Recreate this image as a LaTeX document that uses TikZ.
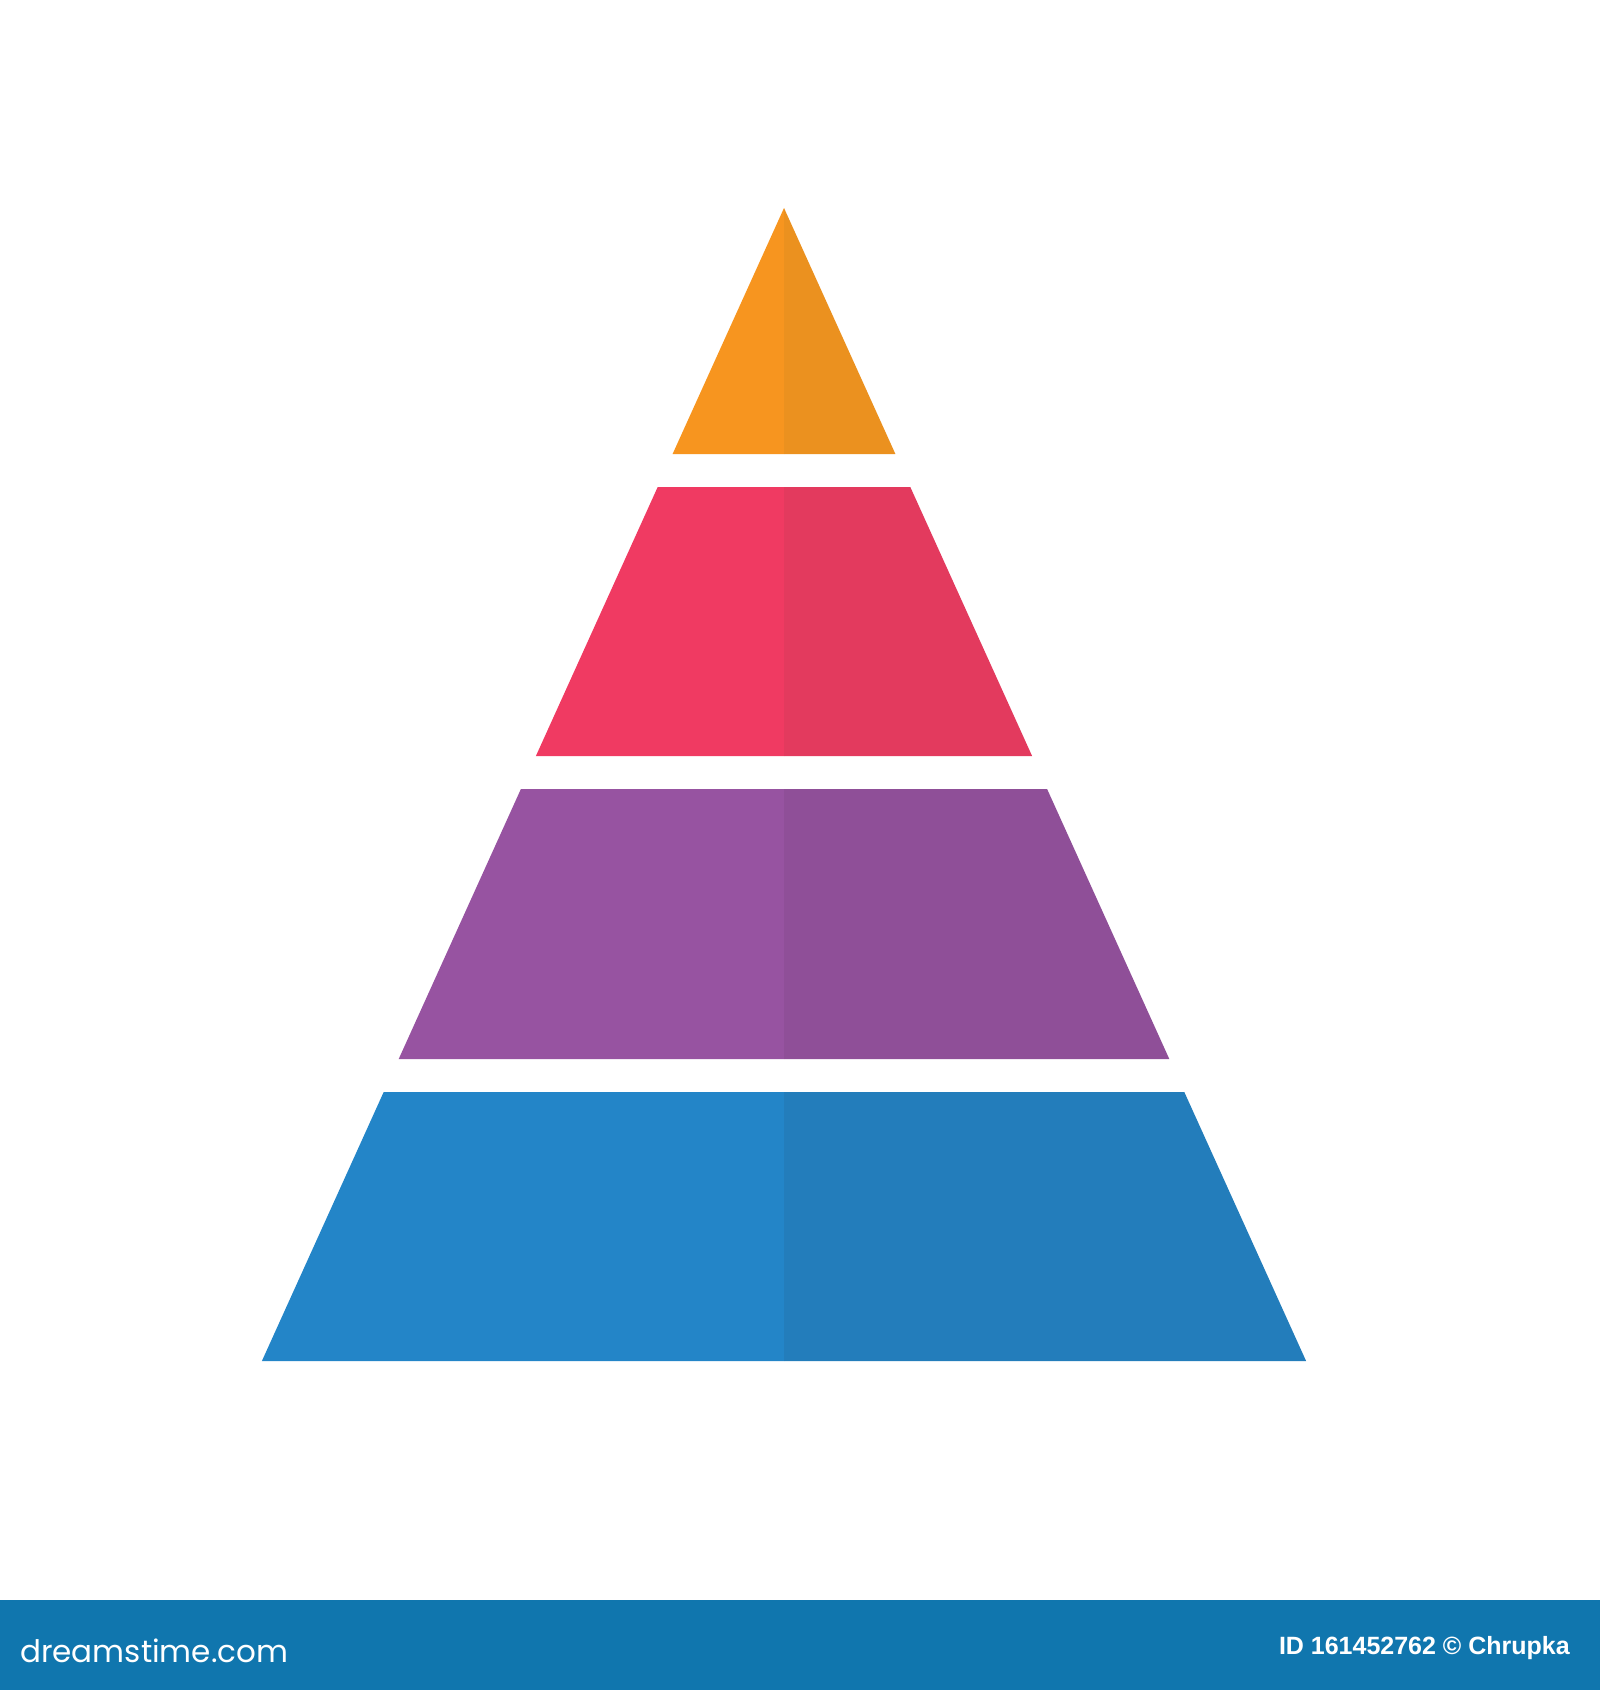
\documentclass[tikz,border=0pt]{standalone}
\usepackage{fontspec}
\setmainfont{Liberation Sans}
\newfontfamily\logofont{Poppins}
\usetikzlibrary{calc}
\definecolor{orangeL}{HTML}{F7951F}
\definecolor{orangeR}{HTML}{EB911F}
\definecolor{redL}{HTML}{F03A62}
\definecolor{redR}{HTML}{E33A5E}
\definecolor{purpleL}{HTML}{9753A1}
\definecolor{purpleR}{HTML}{8F4F98}
\definecolor{blueL}{HTML}{2385C8}
\definecolor{blueR}{HTML}{237DBB}
\definecolor{barblue}{HTML}{1076AE}
\tikzset{
	layer/.style={fill=#1, draw=none},
	bartext/.style={text=white, inner sep=0pt}
}

\begin{document}
\begin{tikzpicture}[x=1pt, y=-1pt]
		% Page with the margins of the picture
		\useasboundingbox[fill=white] (0, 0) rectangle (1600, 1690);

		% Top layer (triangle)
		\fill[layer=orangeL] (784, 208) -- (672.6, 454) -- (784, 454) -- cycle;
		\fill[layer=orangeR] (784, 208) -- (895.4, 454) -- (784, 454) -- cycle;

		% Second layer
		\fill[layer=redL] (657.7, 487) -- (784, 487) -- (784, 756) -- (535.9, 756) -- cycle;
		\fill[layer=redR] (784, 487) -- (910.3, 487) -- (1032.1, 756) -- (784, 756) -- cycle;

		% Third layer
		\fill[layer=purpleL] (520.9, 789) -- (784, 789) -- (784, 1059) -- (398.7, 1059) -- cycle;
		\fill[layer=purpleR] (784, 789) -- (1047.1, 789) -- (1169.3, 1059) -- (784, 1059) -- cycle;

		% Bottom layer
		\fill[layer=blueL] (383.7, 1092) -- (784, 1092) -- (784, 1361) -- (261.9, 1361) -- cycle;
		\fill[layer=blueR] (784, 1092) -- (1184.3, 1092) -- (1306.1, 1361) -- (784, 1361) -- cycle;

		% Footer bar with its texts
		\fill[barblue] (0, 1600) rectangle (1600, 1690);
		\node[bartext, anchor=base west] (site) at (20, 1662)
			{\logofont\fontsize{31}{31}\selectfont dreamstime.com};
		\node[bartext, anchor=base east] (credit) at (1570, 1654)
			{\bfseries\fontsize{25}{25}\selectfont ID 161452762 © Chrupka};
	\end{tikzpicture}
\end{document}
